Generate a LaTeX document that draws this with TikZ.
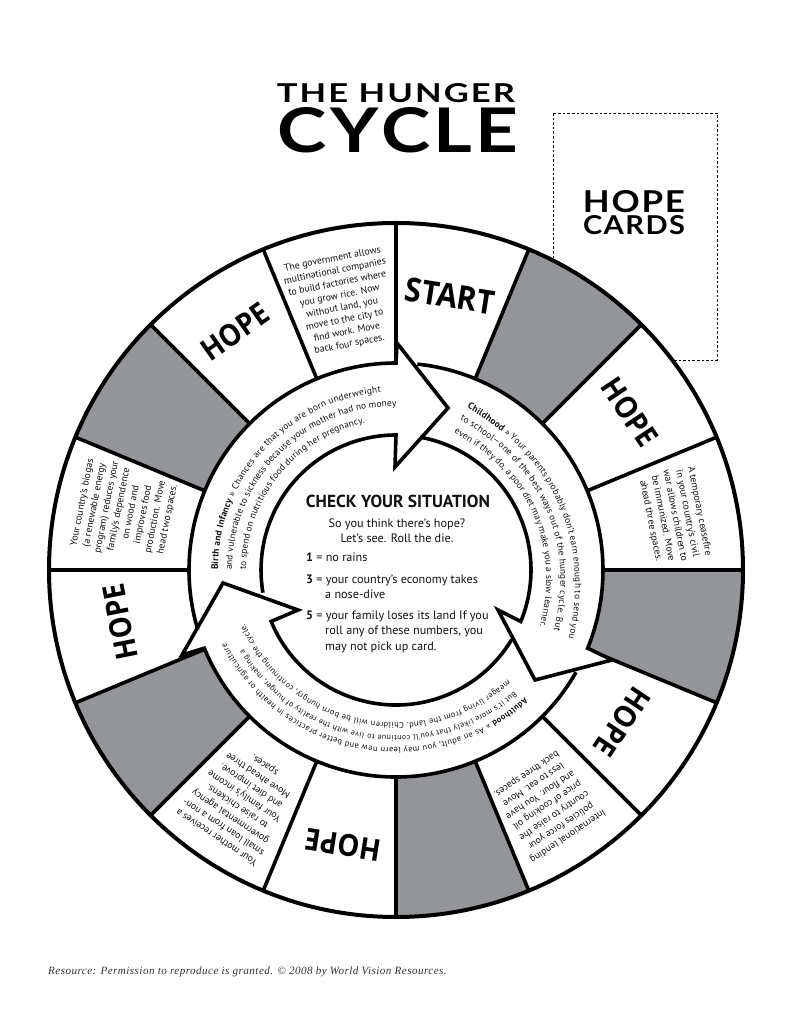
\documentclass[tikz,border=0pt]{standalone}
\usepackage{fontspec}
\usetikzlibrary{decorations.text,calc}
\setmainfont{PT Sans}
\newfontfamily\titlef{Lato}
\newfontfamily\heavyf{Open Sans}
\newfontfamily\footf[LetterSpace=4]{Liberation Serif}
\definecolor{seg}{HTML}{939598}
\definecolor{ink}{HTML}{111111}
\newcommand{\rf}{\fontsize{9.3}{11}\selectfont\color{ink}}
\newcommand{\rbf}{\fontsize{9.3}{11}\selectfont\color{ink}\bfseries}
\newcommand{\af}{\fontsize{8.4}{10}\selectfont\color{ink}}
\newcommand{\abf}{\fontsize{8.4}{10}\selectfont\color{ink}\bfseries}
\newcommand{\afs}{\fontsize{8}{10}\selectfont\color{ink}}
\tikzset{
  wheelline/.style={line width=3.6pt,draw=black,miter limit=12},
  celltext/.style={align=center,font=\fontsize{9.8}{12.4}\selectfont,text=ink,inner sep=0pt},
  situ/.style={anchor=base west,font=\fontsize{12.2}{15.5}\selectfont,text=ink,inner sep=0pt},
  hopelabel/.style={inner sep=0pt,text=black},
  ringtext/.style={decorate},
}
\newcommand{\hopeword}{\resizebox{76pt}{22pt}{\heavyf\bfseries HOPE}}
\newcommand{\ringline}[2]{\path[ringtext,decoration={text along path,text align={fit to path},text={#2}}] #1;}
\newcommand{\arrowA}{(C) ++(196.8:207) arc[start angle=196.8,end angle=90,radius=207] -- (397,680) -- (448,615) -- (395,556) -- ($(C)+(90:135)$) arc[start angle=90,end angle=189.7,radius=135]}
\newcommand{\arrowB}{(C) ++(84.1:207) arc[start angle=84.1,end angle=-22.2,radius=207] -- (612,363) -- (535,343) -- (498,413) -- ($(C)+(-22.4:135)$) arc[start angle=-22.4,end angle=79.7,radius=135]}
\newcommand{\arrowC}{(C) ++(-29.6:207) arc[start angle=-29.6,end angle=-157.8,radius=207] -- (182,368) -- (223,440) -- (298,413) -- ($(C)+(-157.6:135)$) arc[start angle=-157.6,end angle=-31,radius=135]}
\begin{document}
\begin{tikzpicture}[x=1pt,y=1pt]
\useasboundingbox (0,0) rectangle (791,1023);
\fill[white] (0,0) rectangle (791,1023);
\coordinate (C) at (396,453);
% hope card outline
\draw[line width=0.7pt,dash pattern=on 2.6pt off 2pt,black] (553,910) rectangle (717,663);
% wheel
\fill[white] (C) circle[radius=347];
\foreach \a in {67.5,0,-67.5,-135,157.5}{
  \path[fill=seg] (C) ++(\a:207) -- ++(\a:140) arc[start angle=\a,end angle=\a-22.5,radius=347] -- ($(C)+(\a-22.5:207)$) -- cycle;
}
\foreach \a in {90,67.5,45,22.5,0,-22.5,-45,-67.5,-90,-112.5,-135,-157.5,180,157.5,135,112.5}{
  \draw[wheelline] (C) ++(\a:205) -- ++(\a:142);
}
\draw[line width=4pt] (C) circle[radius=347];
% arrows
\fill[white] \arrowA;
\fill[white] \arrowB;
\fill[white] \arrowC;
\draw[wheelline] \arrowA;
\draw[wheelline] \arrowB;
\draw[wheelline] \arrowC;
% ring texts
\ringline{(C) ++(180:178) arc[start angle=180,end angle=95,radius=178]}{|\rbf|Birth and Infancy|| |\rf|» Chances are that you are born underweight||}
\ringline{(C) ++(180:164) arc[start angle=180,end angle=90,radius=164]}{|\rf|and vulnerable to sickness because your mother had no money||}
\ringline{(C) ++(180:150) arc[start angle=180,end angle=102,radius=150]}{|\rf|to spend on nutritious food during her pregnancy.||}
\ringline{(467,615) .. controls (552,568) and (591,485) .. (569,385)}{|\rbf|Childhood|| |\rf|» Your parents probably don’t earn enough to send you||}
\ringline{(460,603) .. controls (540,559) and (576,483) .. (554,393)}{|\rf|to school—one of the best ways out of the hunger cycle. But||}
\ringline{(454,590) .. controls (528,550) and (561,480) .. (540,397)}{|\rf|even if they do, a poor diet may make you a slow learner.||}
\coordinate (D) at (396,465);
\ringline{(D) ++(-47.4:190) arc[start angle=-47.4,end angle=-153.6,radius=190]}{|\abf|Adulthood|| |\af|» As an adult, you may learn new and better practices in health or agriculture||}
\ringline{(D) ++(-48.4:178) arc[start angle=-48.4,end angle=-149,radius=178]}{|\afs|But it’s more likely that you’ll continue to live with the reality of hunger, making a||}
\ringline{(D) ++(-47.4:165) arc[start angle=-47.4,end angle=-156.5,radius=165]}{|\af|meager living from the land. Children will be born hungry, continuing the cycle.||}
% title
\node[inner sep=0pt] (title1) at (396,930) {\resizebox{238pt}{19pt}{\titlef\bfseries T\kern.06em H\kern.06em E\kern.3em H\kern.06em U\kern.06em N\kern.06em G\kern.06em E\kern.06em R}};
\node[inner sep=0pt] (title2) at (398,892.5) {\resizebox{240pt}{45pt}{\titlef\bfseries C\kern.04em Y\kern.04em C\kern.04em L\kern.04em E}};
\node[inner sep=0pt] (card1) at (634,821) {\resizebox{102pt}{22pt}{\titlef\bfseries H\kern.05em O\kern.05em P\kern.05em E}};
\node[inner sep=0pt] (card2) at (634,797.5) {\resizebox{102pt}{19pt}{\titlef\bfseries C\kern.05em A\kern.05em R\kern.05em D\kern.05em S}};
% cell labels
\node[hopelabel,rotate=-9] (start) at (450,727) {\resizebox{90pt}{24pt}{\heavyf\bfseries START}};
\node[hopelabel,rotate=35] (h1) at (235,691) {\hopeword};
\node[hopelabel,rotate=-56.25] (h2) at (630,611) {\hopeword};
\node[hopelabel,rotate=-123.75] (h3) at (622,301) {\hopeword};
\node[hopelabel,rotate=171] (h4) at (343,178) {\hopeword};
\node[hopelabel,rotate=101.25] (h5) at (120,401) {\hopeword};
% cell texts
\node[celltext,rotate=11.25] (gov) at (341,721) {The government allows\\multinational companies\\to build factories where\\you grow rice. Now\\without land, you\\move to the city to\\find work. Move\\back four spaces.};
\node[celltext,rotate=78.75] (biogas) at (125,512) {Your country’s biogas\\(a renewable energy\\program) reduces your\\family’s dependence\\on wood and\\improves food\\production. Move\\head two spaces.};
\node[celltext,rotate=-78.75] (cease) at (675,507) {A temporary ceasefire\\in your country’s civil\\war allows children to\\be immunized. Move\\ahead three spaces.};
\node[celltext,rotate=-146.25] (lend) at (547,218) {International lending\\policies force your\\country to raise the\\price of cooking oil\\and flour. You have\\less to eat. Move\\back three spaces.};
\node[celltext,rotate=146.25] (loan) at (241,222) {Your mother receives a\\small loan from a non-\\governmental agency\\to raise chickens.\\Your family’s income\\and diet improve.\\Move ahead three\\spaces.};
% centre
\node[inner sep=0pt,text=ink] (check) at (398,522) {\fontsize{17.4}{19}\selectfont\bfseries CHECK YOUR SITUATION};
\node[align=center,inner sep=0pt,text=ink,font=\fontsize{12.2}{15.5}\selectfont] (so) at (397,492.5) {So you think there’s hope?\\Let’s see. Roll the die.};
\node[situ] (r1) at (306,461) {\textbf{1} = no rains};
\node[situ] (r3) at (306,439.5) {\textbf{3} = your country’s economy takes};
\node[situ] (r3b) at (325,424) {a nose-dive};
\node[situ] (r5) at (306,403.5) {\textbf{5} = your family loses its land If you};
\node[situ] (r5b) at (325,388) {roll any of these numbers, you};
\node[situ] (r5c) at (325,372.5) {may not pick up card.};
% footer
\node[anchor=base west,inner sep=0pt,text=black!80] (foot) at (48,48) {\footf\itshape\fontsize{11.1}{13}\selectfont Resource: Permission to reproduce is granted. © 2008 by World Vision Resources.};
\end{tikzpicture}
\end{document}
